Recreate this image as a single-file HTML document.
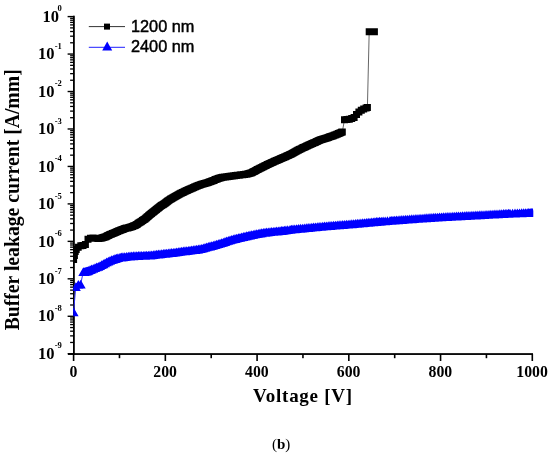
<!DOCTYPE html>
<html><head><meta charset="utf-8"><style>
html,body{margin:0;padding:0;background:#fff;width:550px;height:456px;overflow:hidden}
svg{display:block}
.tl{font-family:"Liberation Serif",serif;font-weight:bold;font-size:15.5px;fill:#000}
.tx{font-family:"Liberation Serif",serif;font-weight:bold;font-size:16.3px;fill:#000}
.tt{font-family:"Liberation Serif",serif;font-weight:bold;font-size:16.5px;fill:#000}
.sp{font-family:"Liberation Serif",serif;font-weight:bold;font-size:8.6px;fill:#000}
.lg{font-family:"Liberation Sans",sans-serif;font-size:16.3px;fill:#000;stroke:#000;stroke-width:0.45px}
.at{font-family:"Liberation Serif",serif;font-weight:bold;font-size:20px;fill:#000}
.bl{font-family:"Liberation Serif",serif;font-size:15px;fill:#000}
.bl tspan{font-weight:bold}
</style></head><body>
<svg width="550" height="456" viewBox="0 0 550 456">
<defs><clipPath id="c"><rect x="73.2" y="0" width="460.1" height="353"/></clipPath></defs>
<rect x="73" y="15.7" width="1.8" height="339.3" fill="#000"/><rect x="68" y="353.15" width="465" height="1.8" fill="#000"/><rect x="67.6" y="15.9" width="6" height="1.4" fill="#000"/><rect x="67.6" y="53.36" width="6" height="1.4" fill="#000"/><rect x="70.1" y="42.13" width="4" height="1.3" fill="#000"/><rect x="70.1" y="35.54" width="4" height="1.3" fill="#000"/><rect x="70.1" y="30.86" width="4" height="1.3" fill="#000"/><rect x="70.1" y="27.23" width="4" height="1.3" fill="#000"/><rect x="70.1" y="24.26" width="4" height="1.3" fill="#000"/><rect x="70.1" y="21.75" width="4" height="1.3" fill="#000"/><rect x="70.1" y="19.58" width="4" height="1.3" fill="#000"/><rect x="70.1" y="17.66" width="4" height="1.3" fill="#000"/><rect x="67.6" y="90.82" width="6" height="1.4" fill="#000"/><rect x="70.1" y="79.59" width="4" height="1.3" fill="#000"/><rect x="70.1" y="73" width="4" height="1.3" fill="#000"/><rect x="70.1" y="68.32" width="4" height="1.3" fill="#000"/><rect x="70.1" y="64.69" width="4" height="1.3" fill="#000"/><rect x="70.1" y="61.72" width="4" height="1.3" fill="#000"/><rect x="70.1" y="59.21" width="4" height="1.3" fill="#000"/><rect x="70.1" y="57.04" width="4" height="1.3" fill="#000"/><rect x="70.1" y="55.12" width="4" height="1.3" fill="#000"/><rect x="67.6" y="128.28" width="6" height="1.4" fill="#000"/><rect x="70.1" y="117.05" width="4" height="1.3" fill="#000"/><rect x="70.1" y="110.46" width="4" height="1.3" fill="#000"/><rect x="70.1" y="105.78" width="4" height="1.3" fill="#000"/><rect x="70.1" y="102.15" width="4" height="1.3" fill="#000"/><rect x="70.1" y="99.18" width="4" height="1.3" fill="#000"/><rect x="70.1" y="96.67" width="4" height="1.3" fill="#000"/><rect x="70.1" y="94.5" width="4" height="1.3" fill="#000"/><rect x="70.1" y="92.58" width="4" height="1.3" fill="#000"/><rect x="67.6" y="165.74" width="6" height="1.4" fill="#000"/><rect x="70.1" y="154.51" width="4" height="1.3" fill="#000"/><rect x="70.1" y="147.92" width="4" height="1.3" fill="#000"/><rect x="70.1" y="143.24" width="4" height="1.3" fill="#000"/><rect x="70.1" y="139.61" width="4" height="1.3" fill="#000"/><rect x="70.1" y="136.64" width="4" height="1.3" fill="#000"/><rect x="70.1" y="134.13" width="4" height="1.3" fill="#000"/><rect x="70.1" y="131.96" width="4" height="1.3" fill="#000"/><rect x="70.1" y="130.04" width="4" height="1.3" fill="#000"/><rect x="67.6" y="203.2" width="6" height="1.4" fill="#000"/><rect x="70.1" y="191.97" width="4" height="1.3" fill="#000"/><rect x="70.1" y="185.38" width="4" height="1.3" fill="#000"/><rect x="70.1" y="180.7" width="4" height="1.3" fill="#000"/><rect x="70.1" y="177.07" width="4" height="1.3" fill="#000"/><rect x="70.1" y="174.1" width="4" height="1.3" fill="#000"/><rect x="70.1" y="171.59" width="4" height="1.3" fill="#000"/><rect x="70.1" y="169.42" width="4" height="1.3" fill="#000"/><rect x="70.1" y="167.5" width="4" height="1.3" fill="#000"/><rect x="67.6" y="240.66" width="6" height="1.4" fill="#000"/><rect x="70.1" y="229.43" width="4" height="1.3" fill="#000"/><rect x="70.1" y="222.84" width="4" height="1.3" fill="#000"/><rect x="70.1" y="218.16" width="4" height="1.3" fill="#000"/><rect x="70.1" y="214.53" width="4" height="1.3" fill="#000"/><rect x="70.1" y="211.56" width="4" height="1.3" fill="#000"/><rect x="70.1" y="209.05" width="4" height="1.3" fill="#000"/><rect x="70.1" y="206.88" width="4" height="1.3" fill="#000"/><rect x="70.1" y="204.96" width="4" height="1.3" fill="#000"/><rect x="67.6" y="278.12" width="6" height="1.4" fill="#000"/><rect x="70.1" y="266.89" width="4" height="1.3" fill="#000"/><rect x="70.1" y="260.3" width="4" height="1.3" fill="#000"/><rect x="70.1" y="255.62" width="4" height="1.3" fill="#000"/><rect x="70.1" y="251.99" width="4" height="1.3" fill="#000"/><rect x="70.1" y="249.02" width="4" height="1.3" fill="#000"/><rect x="70.1" y="246.51" width="4" height="1.3" fill="#000"/><rect x="70.1" y="244.34" width="4" height="1.3" fill="#000"/><rect x="70.1" y="242.42" width="4" height="1.3" fill="#000"/><rect x="67.6" y="315.58" width="6" height="1.4" fill="#000"/><rect x="70.1" y="304.35" width="4" height="1.3" fill="#000"/><rect x="70.1" y="297.76" width="4" height="1.3" fill="#000"/><rect x="70.1" y="293.08" width="4" height="1.3" fill="#000"/><rect x="70.1" y="289.45" width="4" height="1.3" fill="#000"/><rect x="70.1" y="286.48" width="4" height="1.3" fill="#000"/><rect x="70.1" y="283.97" width="4" height="1.3" fill="#000"/><rect x="70.1" y="281.8" width="4" height="1.3" fill="#000"/><rect x="70.1" y="279.88" width="4" height="1.3" fill="#000"/><rect x="67.6" y="353.04" width="6" height="1.4" fill="#000"/><rect x="70.1" y="341.81" width="4" height="1.3" fill="#000"/><rect x="70.1" y="335.22" width="4" height="1.3" fill="#000"/><rect x="70.1" y="330.54" width="4" height="1.3" fill="#000"/><rect x="70.1" y="326.91" width="4" height="1.3" fill="#000"/><rect x="70.1" y="323.94" width="4" height="1.3" fill="#000"/><rect x="70.1" y="321.43" width="4" height="1.3" fill="#000"/><rect x="70.1" y="319.26" width="4" height="1.3" fill="#000"/><rect x="70.1" y="317.34" width="4" height="1.3" fill="#000"/><rect x="72.8" y="354" width="1.6" height="7" fill="#000"/><rect x="118.67" y="354" width="1.6" height="4.2" fill="#000"/><rect x="164.54" y="354" width="1.6" height="7" fill="#000"/><rect x="210.41" y="354" width="1.6" height="4.2" fill="#000"/><rect x="256.28" y="354" width="1.6" height="7" fill="#000"/><rect x="302.15" y="354" width="1.6" height="4.2" fill="#000"/><rect x="348.02" y="354" width="1.6" height="7" fill="#000"/><rect x="393.89" y="354" width="1.6" height="4.2" fill="#000"/><rect x="439.76" y="354" width="1.6" height="7" fill="#000"/><rect x="485.63" y="354" width="1.6" height="4.2" fill="#000"/><rect x="531.5" y="354" width="1.6" height="7" fill="#000"/>
<g clip-path="url(#c)">
<polyline points="73.6,311.9 75.8,286.6 78.3,284.3 80.7,284.2 83.3,271.6 85.5,271.4 87.5,270.9 90,269.6 95,267.6 100,265.6 105,262.8 110,260.3 115,258.5 120,257.2 130,256 140,255.4 150,255 160,253.8 170,252.7 180,251.4 190,250.1 200,248.7 210,246 220,243.2 230,239.8 240,237.3 250,235 260,233 270,231.6 280,230.7 290,229.3 310,227.3 330,225.5 350,223.9 370,222.1 390,220.4 430,217.5 470,215.3 510,213.2 532.3,212.4" fill="none" stroke="#3030ff" stroke-width="1"/>
<path d="M73.6 307.5l5 8.8h-10zM75.8 282.2l5 8.8h-10zM78.3 279.9l5 8.8h-10zM80.7 279.8l5 8.8h-10zM83.3 267.2l5 8.8h-10zM84.27 267.13l5 8.8h-10zM85.5 267l5 8.8h-10zM86.48 266.82l5 8.8h-10zM87.5 266.5l5 8.8h-10zM88.56 265.94l5 8.8h-10zM90 265.2l5 8.8h-10zM91.48 264.59l5 8.8h-10zM93.24 263.89l5 8.8h-10zM95 263.2l5 8.8h-10zM96.67 262.56l5 8.8h-10zM98.33 261.93l5 8.8h-10zM100 261.2l5 8.8h-10zM101.67 260.31l5 8.8h-10zM103.33 259.34l5 8.8h-10zM105 258.4l5 8.8h-10zM106.67 257.52l5 8.8h-10zM108.33 256.67l5 8.8h-10zM110 255.9l5 8.8h-10zM111.67 255.23l5 8.8h-10zM113.33 254.64l5 8.8h-10zM115 254.1l5 8.8h-10zM116.48 253.63l5 8.8h-10zM117.96 253.21l5 8.8h-10zM120 252.8l5 8.8h-10zM121.38 252.59l5 8.8h-10zM122.96 252.37l5 8.8h-10zM124.69 252.16l5 8.8h-10zM126.48 251.95l5 8.8h-10zM128.28 251.76l5 8.8h-10zM130 251.6l5 8.8h-10zM131.67 251.46l5 8.8h-10zM133.33 251.35l5 8.8h-10zM135 251.25l5 8.8h-10zM136.67 251.16l5 8.8h-10zM138.33 251.08l5 8.8h-10zM140 251l5 8.8h-10zM141.67 250.93l5 8.8h-10zM143.33 250.88l5 8.8h-10zM145 250.84l5 8.8h-10zM146.67 250.79l5 8.8h-10zM148.33 250.71l5 8.8h-10zM150 250.6l5 8.8h-10zM151.67 250.45l5 8.8h-10zM153.33 250.26l5 8.8h-10zM155 250.04l5 8.8h-10zM156.67 249.82l5 8.8h-10zM158.33 249.6l5 8.8h-10zM160 249.4l5 8.8h-10zM161.67 249.21l5 8.8h-10zM163.33 249.03l5 8.8h-10zM165 248.86l5 8.8h-10zM166.67 248.68l5 8.8h-10zM168.33 248.49l5 8.8h-10zM170 248.3l5 8.8h-10zM171.67 248.09l5 8.8h-10zM173.33 247.88l5 8.8h-10zM175 247.66l5 8.8h-10zM176.67 247.44l5 8.8h-10zM178.33 247.22l5 8.8h-10zM180 247l5 8.8h-10zM181.67 246.78l5 8.8h-10zM183.33 246.57l5 8.8h-10zM185 246.36l5 8.8h-10zM186.67 246.14l5 8.8h-10zM188.33 245.92l5 8.8h-10zM190 245.7l5 8.8h-10zM191.67 245.49l5 8.8h-10zM193.33 245.29l5 8.8h-10zM195 245.09l5 8.8h-10zM196.67 244.87l5 8.8h-10zM198.33 244.61l5 8.8h-10zM200 244.3l5 8.8h-10zM201.67 243.93l5 8.8h-10zM203.33 243.5l5 8.8h-10zM205 243.04l5 8.8h-10zM206.67 242.56l5 8.8h-10zM208.33 242.07l5 8.8h-10zM210 241.6l5 8.8h-10zM211.67 241.15l5 8.8h-10zM213.33 240.7l5 8.8h-10zM215 240.24l5 8.8h-10zM216.67 239.78l5 8.8h-10zM218.33 239.3l5 8.8h-10zM220 238.8l5 8.8h-10zM221.67 238.26l5 8.8h-10zM223.33 237.68l5 8.8h-10zM225 237.08l5 8.8h-10zM226.67 236.49l5 8.8h-10zM228.33 235.92l5 8.8h-10zM230 235.4l5 8.8h-10zM231.67 234.93l5 8.8h-10zM233.33 234.49l5 8.8h-10zM235 234.08l5 8.8h-10zM236.67 233.69l5 8.8h-10zM238.33 233.29l5 8.8h-10zM240 232.9l5 8.8h-10zM241.67 232.5l5 8.8h-10zM243.33 232.11l5 8.8h-10zM245 231.72l5 8.8h-10zM246.67 231.34l5 8.8h-10zM248.33 230.96l5 8.8h-10zM250 230.6l5 8.8h-10zM251.67 230.24l5 8.8h-10zM253.33 229.89l5 8.8h-10zM255 229.54l5 8.8h-10zM256.67 229.21l5 8.8h-10zM258.33 228.9l5 8.8h-10zM260 228.6l5 8.8h-10zM261.67 228.33l5 8.8h-10zM263.33 228.07l5 8.8h-10zM265 227.83l5 8.8h-10zM266.67 227.61l5 8.8h-10zM268.33 227.4l5 8.8h-10zM270 227.2l5 8.8h-10zM271.67 227.03l5 8.8h-10zM273.33 226.88l5 8.8h-10zM275 226.75l5 8.8h-10zM276.67 226.62l5 8.8h-10zM278.33 226.47l5 8.8h-10zM280 226.3l5 8.8h-10zM281.55 226.1l5 8.8h-10zM282.96 225.89l5 8.8h-10zM284.38 225.67l5 8.8h-10zM285.93 225.43l5 8.8h-10zM287.75 225.17l5 8.8h-10zM290 224.9l5 8.8h-10zM291.44 224.74l5 8.8h-10zM293.03 224.57l5 8.8h-10zM294.73 224.39l5 8.8h-10zM296.54 224.21l5 8.8h-10zM298.41 224.02l5 8.8h-10zM300.35 223.83l5 8.8h-10zM302.31 223.64l5 8.8h-10zM304.27 223.45l5 8.8h-10zM306.23 223.26l5 8.8h-10zM308.14 223.08l5 8.8h-10zM310 222.9l5 8.8h-10zM311.82 222.73l5 8.8h-10zM313.64 222.56l5 8.8h-10zM315.45 222.39l5 8.8h-10zM317.27 222.22l5 8.8h-10zM319.09 222.06l5 8.8h-10zM320.91 221.89l5 8.8h-10zM322.73 221.73l5 8.8h-10zM324.55 221.57l5 8.8h-10zM326.36 221.41l5 8.8h-10zM328.18 221.26l5 8.8h-10zM330 221.1l5 8.8h-10zM331.82 220.95l5 8.8h-10zM333.64 220.8l5 8.8h-10zM335.45 220.65l5 8.8h-10zM337.27 220.51l5 8.8h-10zM339.09 220.37l5 8.8h-10zM340.91 220.23l5 8.8h-10zM342.73 220.09l5 8.8h-10zM344.55 219.95l5 8.8h-10zM346.36 219.8l5 8.8h-10zM348.18 219.65l5 8.8h-10zM350 219.5l5 8.8h-10zM351.82 219.34l5 8.8h-10zM353.64 219.18l5 8.8h-10zM355.45 219.02l5 8.8h-10zM357.27 218.86l5 8.8h-10zM359.09 218.69l5 8.8h-10zM360.91 218.52l5 8.8h-10zM362.73 218.36l5 8.8h-10zM364.55 218.19l5 8.8h-10zM366.36 218.02l5 8.8h-10zM368.18 217.86l5 8.8h-10zM370 217.7l5 8.8h-10zM371.74 217.55l5 8.8h-10zM373.37 217.4l5 8.8h-10zM374.91 217.26l5 8.8h-10zM376.43 217.12l5 8.8h-10zM377.96 216.99l5 8.8h-10zM379.56 216.85l5 8.8h-10zM381.25 216.7l5 8.8h-10zM383.1 216.55l5 8.8h-10zM385.15 216.38l5 8.8h-10zM387.43 216.2l5 8.8h-10zM390 216l5 8.8h-10zM391.47 215.89l5 8.8h-10zM393.03 215.77l5 8.8h-10zM394.66 215.64l5 8.8h-10zM396.37 215.51l5 8.8h-10zM398.14 215.38l5 8.8h-10zM399.97 215.24l5 8.8h-10zM401.85 215.1l5 8.8h-10zM403.78 214.95l5 8.8h-10zM405.74 214.8l5 8.8h-10zM407.74 214.66l5 8.8h-10zM409.76 214.51l5 8.8h-10zM411.81 214.36l5 8.8h-10zM413.86 214.21l5 8.8h-10zM415.93 214.06l5 8.8h-10zM417.99 213.91l5 8.8h-10zM420.04 213.77l5 8.8h-10zM422.09 213.63l5 8.8h-10zM424.11 213.49l5 8.8h-10zM426.11 213.35l5 8.8h-10zM428.07 213.22l5 8.8h-10zM430 213.1l5 8.8h-10zM431.9 212.98l5 8.8h-10zM433.81 212.86l5 8.8h-10zM435.71 212.75l5 8.8h-10zM437.62 212.64l5 8.8h-10zM439.52 212.53l5 8.8h-10zM441.43 212.42l5 8.8h-10zM443.33 212.31l5 8.8h-10zM445.24 212.21l5 8.8h-10zM447.14 212.1l5 8.8h-10zM449.05 212l5 8.8h-10zM450.95 211.9l5 8.8h-10zM452.86 211.8l5 8.8h-10zM454.76 211.7l5 8.8h-10zM456.67 211.6l5 8.8h-10zM458.57 211.5l5 8.8h-10zM460.48 211.4l5 8.8h-10zM462.38 211.3l5 8.8h-10zM464.29 211.2l5 8.8h-10zM466.19 211.1l5 8.8h-10zM468.1 211l5 8.8h-10zM470 210.9l5 8.8h-10zM471.92 210.8l5 8.8h-10zM473.88 210.69l5 8.8h-10zM475.87 210.58l5 8.8h-10zM477.88 210.47l5 8.8h-10zM479.91 210.37l5 8.8h-10zM481.94 210.25l5 8.8h-10zM483.99 210.14l5 8.8h-10zM486.03 210.03l5 8.8h-10zM488.07 209.92l5 8.8h-10zM490.1 209.82l5 8.8h-10zM492.11 209.71l5 8.8h-10zM494.1 209.6l5 8.8h-10zM496.05 209.5l5 8.8h-10zM497.98 209.4l5 8.8h-10zM499.86 209.3l5 8.8h-10zM501.7 209.21l5 8.8h-10zM503.49 209.12l5 8.8h-10zM505.21 209.03l5 8.8h-10zM506.88 208.95l5 8.8h-10zM508.48 208.87l5 8.8h-10zM510 208.8l5 8.8h-10zM512.55 208.69l5 8.8h-10zM515 208.58l5 8.8h-10zM517.34 208.49l5 8.8h-10zM519.57 208.41l5 8.8h-10zM521.68 208.33l5 8.8h-10zM523.65 208.27l5 8.8h-10zM525.49 208.21l5 8.8h-10zM527.17 208.16l5 8.8h-10zM528.71 208.11l5 8.8h-10zM530.08 208.07l5 8.8h-10zM531.28 208.03l5 8.8h-10zM532.3 208l5 8.8h-10z" fill="#0000ff"/>
<polyline points="73.6,259.5 74.4,255.5 75.2,251.5 76.2,249.5 78.2,247.3 80.8,245.8 83,245.5 85.4,244.6 88,239.3 90.5,238.3 93,237.9 95.4,238.3 100,238.3 105,237 110,234.6 115,232.6 120,230.4 125,228.6 130,227.2 135,225.4 140,222.2 145,218.9 150,214.6 155,210.6 160,206.6 165,203.2 170,199.5 180,193.8 190,189.1 200,184.9 210,181.8 220,178 230,176.3 240,175 250,173.3 260,168.3 270,163.4 280,159 290,154.6 300,149.2 305,146.9 310,144.5 315,142.4 320,140.1 325,138.5 330,136.8 335,135 340,132.9 342.3,131.9 344.5,119.7 346.9,119.6 349.3,119.3 351.7,118.6 354.1,117.6 356.5,114.6 358.9,111.9 361.3,110.3 363.7,109 366.1,108 367.4,107.6 369.2,31.7 374.4,31.7" fill="none" stroke="#000" stroke-width="1" opacity="0.6"/>
<path d="M70.1 256h7v7h-7zM70.9 252h7v7h-7zM71.7 248h7v7h-7zM72.7 246h7v7h-7zM74.7 243.8h7v7h-7zM77.3 242.3h7v7h-7zM79.5 242h7v7h-7zM81.9 241.1h7v7h-7zM84.5 235.8h7v7h-7zM87 234.8h7v7h-7zM89.5 234.4h7v7h-7zM91.9 234.8h7v7h-7zM92.52 234.82h7v7h-7zM93.39 234.86h7v7h-7zM94.41 234.89h7v7h-7zM95.48 234.88h7v7h-7zM96.5 234.8h7v7h-7zM97.31 234.67h7v7h-7zM98.14 234.5h7v7h-7zM98.97 234.3h7v7h-7zM99.82 234.06h7v7h-7zM100.66 233.8h7v7h-7zM101.5 233.5h7v7h-7zM102.33 233.16h7v7h-7zM103.17 232.77h7v7h-7zM104 232.34h7v7h-7zM104.83 231.91h7v7h-7zM105.67 231.49h7v7h-7zM106.5 231.1h7v7h-7zM107.33 230.75h7v7h-7zM108.17 230.41h7v7h-7zM109 230.09h7v7h-7zM109.83 229.77h7v7h-7zM110.67 229.44h7v7h-7zM111.5 229.1h7v7h-7zM112.33 228.74h7v7h-7zM113.17 228.37h7v7h-7zM114 227.99h7v7h-7zM114.83 227.61h7v7h-7zM115.67 227.25h7v7h-7zM116.5 226.9h7v7h-7zM117.33 226.57h7v7h-7zM118.17 226.26h7v7h-7zM119 225.95h7v7h-7zM119.83 225.66h7v7h-7zM120.67 225.37h7v7h-7zM121.5 225.1h7v7h-7zM122.33 224.85h7v7h-7zM123.17 224.62h7v7h-7zM124 224.4h7v7h-7zM124.83 224.18h7v7h-7zM125.67 223.95h7v7h-7zM126.5 223.7h7v7h-7zM127.33 223.44h7v7h-7zM128.17 223.18h7v7h-7zM129 222.91h7v7h-7zM129.83 222.62h7v7h-7zM130.67 222.29h7v7h-7zM131.5 221.9h7v7h-7zM132.33 221.45h7v7h-7zM133.17 220.94h7v7h-7zM134 220.39h7v7h-7zM134.83 219.83h7v7h-7zM135.67 219.26h7v7h-7zM136.5 218.7h7v7h-7zM137.33 218.17h7v7h-7zM138.17 217.64h7v7h-7zM139 217.12h7v7h-7zM139.83 216.58h7v7h-7zM140.67 216.01h7v7h-7zM141.5 215.4h7v7h-7zM142.21 214.84h7v7h-7zM142.93 214.24h7v7h-7zM143.64 213.61h7v7h-7zM144.36 212.97h7v7h-7zM145.07 212.34h7v7h-7zM145.79 211.71h7v7h-7zM146.5 211.1h7v7h-7zM147.21 210.51h7v7h-7zM147.93 209.94h7v7h-7zM148.64 209.36h7v7h-7zM149.36 208.8h7v7h-7zM150.07 208.23h7v7h-7zM150.79 207.67h7v7h-7zM151.5 207.1h7v7h-7zM152.21 206.52h7v7h-7zM152.93 205.94h7v7h-7zM153.64 205.35h7v7h-7zM154.36 204.77h7v7h-7zM155.07 204.2h7v7h-7zM155.79 203.64h7v7h-7zM156.5 203.1h7v7h-7zM157.21 202.59h7v7h-7zM157.93 202.09h7v7h-7zM158.64 201.62h7v7h-7zM159.36 201.15h7v7h-7zM160.07 200.68h7v7h-7zM160.79 200.2h7v7h-7zM161.5 199.7h7v7h-7zM162.17 199.2h7v7h-7zM162.78 198.72h7v7h-7zM163.38 198.24h7v7h-7zM164.01 197.74h7v7h-7zM164.71 197.21h7v7h-7zM165.52 196.64h7v7h-7zM166.5 196h7v7h-7zM167.16 195.59h7v7h-7zM167.88 195.15h7v7h-7zM168.65 194.69h7v7h-7zM169.46 194.21h7v7h-7zM170.31 193.72h7v7h-7zM171.19 193.21h7v7h-7zM172.08 192.71h7v7h-7zM172.98 192.2h7v7h-7zM173.88 191.7h7v7h-7zM174.78 191.22h7v7h-7zM175.65 190.75h7v7h-7zM176.5 190.3h7v7h-7zM177.33 189.87h7v7h-7zM178.17 189.45h7v7h-7zM179 189.04h7v7h-7zM179.83 188.64h7v7h-7zM180.67 188.25h7v7h-7zM181.5 187.86h7v7h-7zM182.33 187.47h7v7h-7zM183.17 187.09h7v7h-7zM184 186.72h7v7h-7zM184.83 186.34h7v7h-7zM185.67 185.97h7v7h-7zM186.5 185.6h7v7h-7zM187.41 185.2h7v7h-7zM188.32 184.79h7v7h-7zM189.23 184.39h7v7h-7zM190.14 183.99h7v7h-7zM191.05 183.6h7v7h-7zM191.95 183.21h7v7h-7zM192.86 182.83h7v7h-7zM193.77 182.45h7v7h-7zM194.68 182.09h7v7h-7zM195.59 181.74h7v7h-7zM196.5 181.4h7v7h-7zM197.41 181.08h7v7h-7zM198.32 180.78h7v7h-7zM199.23 180.49h7v7h-7zM200.14 180.22h7v7h-7zM201.05 179.96h7v7h-7zM201.95 179.69h7v7h-7zM202.86 179.43h7v7h-7zM203.77 179.17h7v7h-7zM204.68 178.89h7v7h-7zM205.59 178.6h7v7h-7zM206.5 178.3h7v7h-7zM207.41 177.97h7v7h-7zM208.32 177.62h7v7h-7zM209.23 177.26h7v7h-7zM210.14 176.88h7v7h-7zM211.05 176.5h7v7h-7zM211.95 176.12h7v7h-7zM212.86 175.76h7v7h-7zM213.77 175.4h7v7h-7zM214.68 175.07h7v7h-7zM215.59 174.77h7v7h-7zM216.5 174.5h7v7h-7zM217.41 174.27h7v7h-7zM218.32 174.06h7v7h-7zM219.23 173.87h7v7h-7zM220.14 173.71h7v7h-7zM221.05 173.56h7v7h-7zM221.95 173.43h7v7h-7zM222.86 173.3h7v7h-7zM223.77 173.18h7v7h-7zM224.68 173.06h7v7h-7zM225.59 172.93h7v7h-7zM226.5 172.8h7v7h-7zM227.41 172.67h7v7h-7zM228.32 172.54h7v7h-7zM229.23 172.43h7v7h-7zM230.14 172.31h7v7h-7zM231.05 172.2h7v7h-7zM231.95 172.1h7v7h-7zM232.86 171.99h7v7h-7zM233.77 171.87h7v7h-7zM234.68 171.76h7v7h-7zM235.59 171.63h7v7h-7zM236.5 171.5h7v7h-7zM237.41 171.37h7v7h-7zM238.32 171.26h7v7h-7zM239.23 171.15h7v7h-7zM240.14 171.05h7v7h-7zM241.05 170.94h7v7h-7zM241.95 170.82h7v7h-7zM242.86 170.68h7v7h-7zM243.77 170.51h7v7h-7zM244.68 170.32h7v7h-7zM245.59 170.08h7v7h-7zM246.5 169.8h7v7h-7zM247.33 169.5h7v7h-7zM248.17 169.16h7v7h-7zM249 168.78h7v7h-7zM249.83 168.37h7v7h-7zM250.67 167.95h7v7h-7zM251.5 167.5h7v7h-7zM252.33 167.04h7v7h-7zM253.17 166.58h7v7h-7zM254 166.12h7v7h-7zM254.83 165.67h7v7h-7zM255.67 165.22h7v7h-7zM256.5 164.8h7v7h-7zM257.33 164.39h7v7h-7zM258.17 163.97h7v7h-7zM259 163.56h7v7h-7zM259.83 163.14h7v7h-7zM260.67 162.73h7v7h-7zM261.5 162.31h7v7h-7zM262.33 161.9h7v7h-7zM263.17 161.49h7v7h-7zM264 161.09h7v7h-7zM264.83 160.69h7v7h-7zM265.67 160.29h7v7h-7zM266.5 159.9h7v7h-7zM267.41 159.48h7v7h-7zM268.32 159.07h7v7h-7zM269.23 158.66h7v7h-7zM270.14 158.26h7v7h-7zM271.05 157.87h7v7h-7zM271.95 157.47h7v7h-7zM272.86 157.08h7v7h-7zM273.77 156.69h7v7h-7zM274.68 156.29h7v7h-7zM275.59 155.9h7v7h-7zM276.5 155.5h7v7h-7zM277.41 155.1h7v7h-7zM278.32 154.71h7v7h-7zM279.23 154.33h7v7h-7zM280.14 153.94h7v7h-7zM281.05 153.56h7v7h-7zM281.95 153.17h7v7h-7zM282.86 152.77h7v7h-7zM283.77 152.37h7v7h-7zM284.68 151.96h7v7h-7zM285.59 151.54h7v7h-7zM286.5 151.1h7v7h-7zM287.35 150.68h7v7h-7zM288.22 150.22h7v7h-7zM289.12 149.75h7v7h-7zM290.02 149.26h7v7h-7zM290.92 148.76h7v7h-7zM291.81 148.27h7v7h-7zM292.69 147.78h7v7h-7zM293.54 147.31h7v7h-7zM294.35 146.86h7v7h-7zM295.12 146.43h7v7h-7zM295.84 146.04h7v7h-7zM296.5 145.7h7v7h-7zM297.62 145.14h7v7h-7zM298.54 144.71h7v7h-7zM299.31 144.36h7v7h-7zM300.02 144.06h7v7h-7zM300.72 143.75h7v7h-7zM301.5 143.4h7v7h-7zM302.33 143h7v7h-7zM303.17 142.6h7v7h-7zM304 142.19h7v7h-7zM304.83 141.78h7v7h-7zM305.67 141.38h7v7h-7zM306.5 141h7v7h-7zM307.33 140.63h7v7h-7zM308.17 140.29h7v7h-7zM309 139.94h7v7h-7zM309.83 139.6h7v7h-7zM310.67 139.26h7v7h-7zM311.5 138.9h7v7h-7zM312.33 138.52h7v7h-7zM313.17 138.12h7v7h-7zM314 137.72h7v7h-7zM314.83 137.32h7v7h-7zM315.67 136.95h7v7h-7zM316.5 136.6h7v7h-7zM317.33 136.29h7v7h-7zM318.17 136.02h7v7h-7zM319 135.76h7v7h-7zM319.83 135.51h7v7h-7zM320.67 135.26h7v7h-7zM321.5 135h7v7h-7zM322.33 134.72h7v7h-7zM323.17 134.44h7v7h-7zM324 134.16h7v7h-7zM324.83 133.88h7v7h-7zM325.67 133.59h7v7h-7zM326.5 133.3h7v7h-7zM327.33 133.01h7v7h-7zM328.17 132.72h7v7h-7zM329 132.43h7v7h-7zM329.83 132.13h7v7h-7zM330.67 131.82h7v7h-7zM331.5 131.5h7v7h-7zM332.36 131.15h7v7h-7zM333.27 130.78h7v7h-7zM334.17 130.4h7v7h-7zM335.03 130.03h7v7h-7zM335.82 129.69h7v7h-7zM336.5 129.4h7v7h-7zM337.55 128.95h7v7h-7zM338.3 128.62h7v7h-7zM338.8 128.4h7v7h-7zM341 116.2h7v7h-7zM343.4 116.1h7v7h-7zM345.8 115.8h7v7h-7zM348.2 115.1h7v7h-7zM350.6 114.1h7v7h-7zM353 111.1h7v7h-7zM355.4 108.4h7v7h-7zM357.8 106.8h7v7h-7zM360.2 105.5h7v7h-7zM362.6 104.5h7v7h-7zM363.9 104.1h7v7h-7zM365.7 28.2h7v7h-7zM370.9 28.2h7v7h-7z" fill="#000"/>
</g>
<text class="tt" x="58.9" y="21.8" text-anchor="end">10</text><text class="sp" x="61.8" y="11.3" text-anchor="end">0</text><text class="tt" x="54.6" y="59.26" text-anchor="end">10</text><text class="sp" x="61.8" y="48.76" text-anchor="end">-1</text><text class="tt" x="54.6" y="96.72" text-anchor="end">10</text><text class="sp" x="61.8" y="86.22" text-anchor="end">-2</text><text class="tt" x="54.6" y="134.18" text-anchor="end">10</text><text class="sp" x="61.8" y="123.68" text-anchor="end">-3</text><text class="tt" x="54.6" y="171.64" text-anchor="end">10</text><text class="sp" x="61.8" y="161.14" text-anchor="end">-4</text><text class="tt" x="54.6" y="209.1" text-anchor="end">10</text><text class="sp" x="61.8" y="198.6" text-anchor="end">-5</text><text class="tt" x="54.6" y="246.56" text-anchor="end">10</text><text class="sp" x="61.8" y="236.06" text-anchor="end">-6</text><text class="tt" x="54.6" y="284.02" text-anchor="end">10</text><text class="sp" x="61.8" y="273.52" text-anchor="end">-7</text><text class="tt" x="54.6" y="321.48" text-anchor="end">10</text><text class="sp" x="61.8" y="310.98" text-anchor="end">-8</text><text class="tt" x="54.6" y="358.94" text-anchor="end">10</text><text class="sp" x="61.8" y="348.44" text-anchor="end">-9</text><text class="tx" transform="translate(73.4 376.9) scale(0.97 1)" text-anchor="middle">0</text><text class="tx" transform="translate(165.14 376.9) scale(0.97 1)" text-anchor="middle">200</text><text class="tx" transform="translate(256.88 376.9) scale(0.97 1)" text-anchor="middle">400</text><text class="tx" transform="translate(348.62 376.9) scale(0.97 1)" text-anchor="middle">600</text><text class="tx" transform="translate(440.36 376.9) scale(0.97 1)" text-anchor="middle">800</text><text class="tx" transform="translate(532.1 376.9) scale(0.97 1)" text-anchor="middle">1000</text>
<g class="leg">
<line x1="88.8" y1="26.6" x2="125" y2="26.6" stroke="#333" stroke-width="1"/>
<rect x="104" y="23.6" width="6" height="6" fill="#000"/>
<line x1="88.8" y1="47.3" x2="125" y2="47.3" stroke="#2020ff" stroke-width="1"/>
<path d="M107.2 41.5L112.2 50.5H102.2Z" fill="#0000ff"/>
<text class="lg" x="131" y="31.8">1200 nm</text>
<text class="lg" x="131" y="51.6">2400 nm</text>
</g>
<text class="at" x="302.6" y="402.2" text-anchor="middle" textLength="99" lengthAdjust="spacing" style="font-size:19px">Voltage [V]</text>
<text class="at" transform="translate(18.8 199.8) rotate(-90)" text-anchor="middle" textLength="261" lengthAdjust="spacingAndGlyphs">Buffer leakage current [A/mm]</text>
<text class="bl" x="281.2" y="449" text-anchor="middle">(<tspan>b</tspan>)</text>
</svg>
</body></html>
